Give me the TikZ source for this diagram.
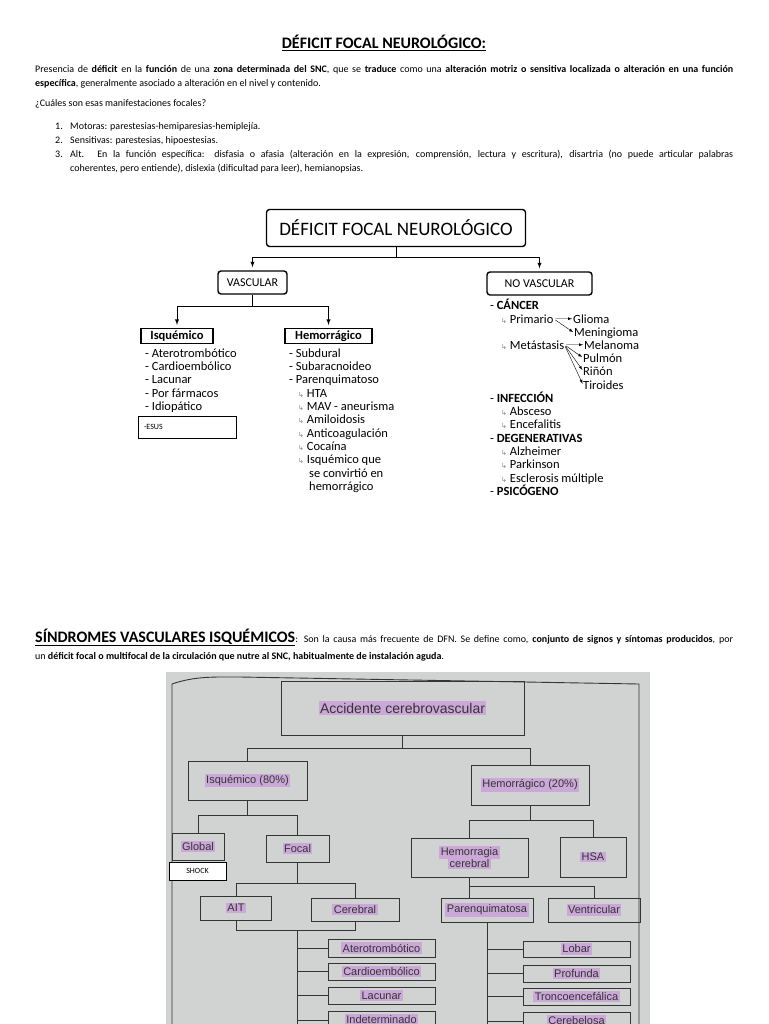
\documentclass[tikz,border=0pt]{standalone}
\usepackage{fontspec}
\setmainfont{Carlito}
\newfontfamily\arial{Liberation Sans}
\newfontfamily\dejavu{DejaVu Sans}
\usepackage{xcolor}
\usetikzlibrary{positioning, calc}

\definecolor{fotogris}{RGB}{209,211,210}
\definecolor{lila}{RGB}{203,168,215}
\definecolor{tinta}{RGB}{52,52,52}
\newcommand{\marca}[1]{{\setlength{\fboxsep}{1.5pt}\colorbox{lila}{#1}}}
\newcommand{\gancho}{{\dejavu\fontsize{7}{7}\selectfont\textcolor{gray}{↳}}}

\begin{document}
\setlength{\lineskiplimit}{-20pt}
\begin{tikzpicture}[x=1pt, y=-1pt, >=latex,
	caja/.style={draw, rounded corners=3pt, line width=1.4pt, inner sep=0pt},
	cajita/.style={draw, line width=1.2pt, inner sep=0pt, font=\fontsize{12.5}{14}\selectfont\bfseries},
	lista/.style={anchor=base west, align=left, inner sep=0pt, font=\fontsize{12.5}{13.35}\selectfont},
	linea/.style={anchor=base west, inner sep=0pt, font=\fontsize{10}{12}\selectfont},
	flecha/.style={->, line width=0.9pt, shorten >=3pt},
	fina/.style={->, line width=0.4pt, shorten <=2pt, shorten >=1pt},
	foto/.style={draw=tinta, line width=0.9pt, inner sep=0pt, text=tinta, font=\arial\fontsize{11}{13}\selectfont},
	rama/.style={draw=tinta, line width=0.9pt}
]
\useasboundingbox (0,0) rectangle (768,1024);
\fill[white] (0,0) rectangle (768,1024);

% Texto
\node[anchor=base, inner sep=0pt, font=\fontsize{16}{18}\selectfont\bfseries] (titulo) at (384,49) {\underline{DÉFICIT FOCAL NEUROLÓGICO:}};
\node[linea] (p1) at (35,73) {\makebox[698pt][s]{Presencia de \textbf{déficit} en la \textbf{función} de una \textbf{zona determinada del SNC}, que se \textbf{traduce} como una \textbf{alteración motriz o sensitiva localizada o alteración en una función}}};
\node[linea] (p2) at (35,87) {\textbf{específica}, generalmente asociado a alteración en el nivel y contenido.};
\node[linea] (pregunta) at (35,107) {¿Cuáles son esas manifestaciones focales?};
\node[linea] (n1) at (55,130) {1.};
\node[linea] (m1) at (70,130) {Motoras: parestesias-hemiparesias-hemiplejía.};
\node[linea] (n2) at (55,144) {2.};
\node[linea] (m2) at (70,144) {Sensitivas: parestesias, hipoestesias.};
\node[linea] (n3) at (55,158) {3.};
\node[linea] (m3) at (70,158) {\makebox[663pt][s]{Alt. En la función específica: disfasia o afasia (alteración en la expresión, comprensión, lectura y escritura), disartria (no puede articular palabras}};
\node[linea] (m3b) at (70,172) {coherentes, pero entiende), dislexia (dificultad para leer), hemianopsias.};

% Esquema 1
\node[caja, minimum width=259, minimum height=37, font=\fontsize{19}{21}\selectfont] (dfn) at (396,228) {DÉFICIT FOCAL NEUROLÓGICO};
\node[caja, minimum width=69, minimum height=23, font=\fontsize{12}{14}\selectfont] (vasc) at (252.5,282.5) {VASCULAR};
\node[caja, minimum width=105, minimum height=23, font=\fontsize{12}{14}\selectfont] (novasc) at (539.5,283.5) {NO VASCULAR};
\draw[flecha] (dfn.south) -- ++(0,10) -| (vasc.north);
\draw[flecha] (dfn.south) -- ++(0,10) -| (novasc.north);

\node[cajita, minimum width=72, minimum height=15] (isqbox) at (177,336) {Isquémico};
\node[cajita, minimum width=87, minimum height=15] (hembox) at (328.5,336) {Hemorrágico};
\draw[flecha] (vasc.south) -- ++(0,12) -| (isqbox.north);
\draw[flecha] (vasc.south) -- ++(0,12) -| (hembox.north);

% (base de la ultima linea)
\node[lista] (isqlista) at (145,410.4) {- Aterotrombótico\\- Cardioembólico\\- Lacunar\\- Por fármacos\\- Idiopático};
\node[draw, line width=0.6pt, minimum width=98, minimum height=22, inner xsep=6pt, inner ysep=0pt, text width=86, font=\fontsize{8}{9}\selectfont] (esus) at (187,427) {-ESUS};

\node[lista] (hemlista) at (289,490.5) {- Subdural\\- Subaracnoideo\\- Parenquimatoso\\
	\hspace*{9pt}\gancho\ HTA\\\hspace*{9pt}\gancho\ MAV - aneurisma\\\hspace*{9pt}\gancho\ Amiloidosis\\
	\hspace*{9pt}\gancho\ Anticoagulación\\\hspace*{9pt}\gancho\ Cocaína\\\hspace*{9pt}\gancho\ Isquémico que\\
	\hspace*{20pt}se convirtió en\\\hspace*{20pt}hemorrágico};

\node[lista] (cancer) at (490,309) {- \textbf{CÁNCER}};
\node[lista] (primario) at (501,323) {\gancho\ Primario};
\node[lista] (metastasis) at (501,349) {\gancho\ Metástasis};
\node[lista] (glioma) at (573,323) {Glioma};
\node[lista] (meningioma) at (574,336) {Meningioma};
\node[lista] (melanoma) at (584,349) {Melanoma};
\node[lista] (pulmon) at (583,362) {Pulmón};
\node[lista] (rinon) at (583,375) {Riñón};
\node[lista] (tiroides) at (583,389) {Tiroides};
\draw[fina] (primario.east) -- (glioma.west);
\draw[fina] (primario.east) -- (meningioma.west);
\draw[fina] (metastasis.east) -- (melanoma.west);
\draw[fina] (metastasis.east) -- (pulmon.west);
\draw[fina] (metastasis.east) -- (rinon.west);
\draw[fina] (metastasis.east) -- (tiroides.west);

\node[lista] (resto) at (490,495.5) {- \textbf{INFECCIÓN}\\\hspace*{11pt}\gancho\ Absceso\\\hspace*{11pt}\gancho\ Encefalitis\\
	- \textbf{DEGENERATIVAS}\\\hspace*{11pt}\gancho\ Alzheimer\\\hspace*{11pt}\gancho\ Parkinson\\
	\hspace*{11pt}\gancho\ Esclerosis múltiple\\- \textbf{PSICÓGENO}};

% Sindromes
\node[linea] (s1) at (35,642) {\makebox[698pt][s]{{\fontsize{16}{18}\selectfont\bfseries\underline{SÍNDROMES VASCULARES ISQUÉMICOS}}: Son la causa más frecuente de DFN. Se define como, \textbf{conjunto de signos y síntomas producidos}, por}};
\node[linea] (s2) at (35,659) {un \textbf{déficit focal o multifocal de la circulación que nutre al SNC, habitualmente de instalación aguda}.};

% Foto del esquema
\fill[fotogris] (166,672) rectangle (650,1030);
\draw[rama] (172,1030) -- (172,684) .. controls (195,676) and (215,677) .. (240,677) -- (639,684) -- (639,1030);

\node[foto, minimum width=243, minimum height=54, font=\arial\fontsize{14}{16}\selectfont] (acv) at (402.5,708) {\marca{Accidente cerebrovascular}};
\node[foto, minimum width=119, minimum height=39] (isq) at (247.5,780.5) {\marca{Isquémico (80\%)}};
\node[foto, minimum width=118, minimum height=40] (hem) at (530,785) {\marca{Hemorrágico (20\%)}};
\node[foto, minimum width=52, minimum height=27] (glob) at (198,846.5) {\marca{Global}};
\node[draw, fill=white, line width=0.6pt, minimum width=57, minimum height=18, inner sep=0pt, font=\fontsize{8}{9}\selectfont] (shock) at (197.5,871) {SHOCK};
\node[foto, minimum width=63, minimum height=27] (focal) at (297.5,848.5) {\marca{Focal}};
\node[foto, minimum width=71, minimum height=24] (ait) at (236,908) {\marca{AIT}};
\node[foto, minimum width=88, minimum height=23] (cereb) at (355,909.5) {\marca{Cerebral}};
\node[foto, minimum width=107, minimum height=18] (atero) at (381.5,948) {\marca{Aterotrombótico}};
\node[foto, minimum width=107, minimum height=17] (cardio) at (381.5,971.5) {\marca{Cardioembólico}};
\node[foto, minimum width=107, minimum height=17] (lacunar) at (381.5,995.5) {\marca{Lacunar}};
\node[foto, minimum width=107, minimum height=17] (indet) at (381.5,1020) {\marca{Indeterminado}};
\node[foto, minimum width=117, minimum height=39, align=center, font=\arial\fontsize{11}{12.5}\selectfont] (hcer) at (469.5,857.5) {\marca{Hemorragia}\\\marca{cerebral}};
\node[foto, minimum width=66, minimum height=40] (hsa) at (593,857) {\marca{HSA}};
\node[foto, minimum width=92, minimum height=24] (parenq) at (487,910) {\marca{Parenquimatosa}};
\node[foto, minimum width=92, minimum height=24] (ventr) at (594,910) {\marca{Ventricular}};
\node[foto, minimum width=107, minimum height=16] (lobar) at (576.5,949) {\marca{Lobar}};
\node[foto, minimum width=107, minimum height=17] (profunda) at (576.5,973.5) {\marca{Profunda}};
\node[foto, minimum width=107, minimum height=17] (tronco) at (576.5,996.5) {\marca{Troncoencefálica}};
\node[foto, minimum width=107, minimum height=17] (cerebelosa) at (576.5,1021) {\marca{Cerebelosa}};

\draw[rama] (acv.south) -- ++(0,13) -| (isq.north);
\draw[rama] (acv.south) -- ++(0,13) -| (hem.north);
\draw[rama] (isq.south) -- ++(0,15) -| (glob.north);
\draw[rama] (isq.south) -- ++(0,15) -| (focal.north);
\draw[rama] (focal.south) -- ++(0,21) -| (ait.north);
\draw[rama] (focal.south) -- ++(0,21) -| (cereb.north);
\draw[rama] (ait.south) -- ++(0,10) -| (cereb.south);
\coordinate (eje1) at ($(focal.south |- ait.south)+(0,10)$);
\coordinate (fin1) at ($(eje1)+(0,100)$);
\draw[rama] (eje1) -- (fin1);
\draw[rama] (eje1) |- (atero.west);
\draw[rama] (eje1) |- (cardio.west);
\draw[rama] (eje1) |- (lacunar.west);
\draw[rama] (eje1) |- (indet.west);

\draw[rama] (hem.south) -- ++(0,15) -| (hcer.north);
\draw[rama] (hem.south) -- ++(0,15) -| (hsa.north);
\draw[rama] (hcer.south) -- (hcer.south |- parenq.north);
\draw[rama] (hcer.south) -- ++(0,9) -| (ventr.north);
\coordinate (fin2) at ($(parenq.south)+(0,110)$);
\draw[rama] (parenq.south) -- (fin2);
\draw[rama] (parenq.south) |- (lobar.west);
\draw[rama] (parenq.south) |- (profunda.west);
\draw[rama] (parenq.south) |- (tronco.west);
\draw[rama] (parenq.south) |- (cerebelosa.west);
\end{tikzpicture}
\end{document}
